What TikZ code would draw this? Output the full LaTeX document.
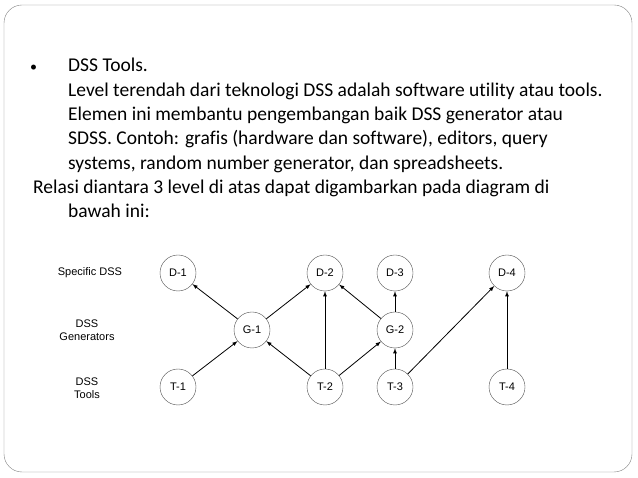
\documentclass[tikz,border=0pt]{standalone}
\usepackage{fontspec}
\setmainfont[RawFeature={-liga;-dlig}]{Carlito}
\newfontfamily\arialf{Liberation Sans}
\begin{document}
\begin{tikzpicture}[x=1pt,y=-1pt,
  ln/.style={anchor=base west,inner sep=0pt,font=\fontsize{19.5}{22}\selectfont},
  cn/.style={circle,draw=black!70,minimum size=36pt,inner sep=0pt,font=\arialf\fontsize{11}{13}\selectfont},
  lab/.style={align=center,font=\arialf\fontsize{11}{13}\selectfont},
  ar/.style={-latex,thick}]
\useasboundingbox (0,0) rectangle (638,478);
\draw[gray,rounded corners=18pt] (4,5) rectangle (632,472);
\node[ln,font=\fontsize{14}{16}\selectfont] (b) at (30,72) {•};
\node[ln] (l1) at (68,72) {DSS Tools.};
\node[ln] (l2) at (68,97) {Level terendah dari teknologi DSS adalah software utility atau tools.};
\node[ln] (l3) at (68,121) {Elemen ini membantu pengembangan baik DSS generator atau};
\node[ln] (l4) at (68,145) {SDSS. Contoh: grafis (hardware dan software), editors, query};
\node[ln] (l5) at (68,170) {systems, random number generator, dan spreadsheets.};
\node[ln] (l6) at (33,194) {Relasi diantara 3 level di atas dapat digambarkan pada diagram di};
\node[ln] (l7) at (68,218) {bawah ini:};
\node[lab] (s1) at (90,273) {Specific DSS};
\node[lab] (s2) at (87,330) {DSS\\Generators};
\node[lab] (s3) at (87,388) {DSS\\Tools};
\node[cn] (D1) at (178,273) {D-1};
\node[cn] (D2) at (325,273) {D-2};
\node[cn] (D3) at (395,273) {D-3};
\node[cn] (D4) at (507,273) {D-4};
\node[cn] (G1) at (252,330) {G-1};
\node[cn] (G2) at (395,330) {G-2};
\node[cn] (T1) at (178,387) {T-1};
\node[cn] (T2) at (325,387) {T-2};
\node[cn] (T3) at (395,387) {T-3};
\node[cn] (T4) at (507,387) {T-4};
\draw[ar] (G1) -- (D1);
\draw[ar] (G1) -- (D2);
\draw[ar] (T2) -- (D2);
\draw[ar] (G2) -- (D2);
\draw[ar] (G2) -- (D3);
\draw[ar] (T1) -- (G1);
\draw[ar] (T2) -- (G1);
\draw[ar] (T2) -- (G2);
\draw[ar] (T3) -- (G2);
\draw[ar] (T3) -- (D4);
\draw[ar] (T4) -- (D4);
\end{tikzpicture}
\end{document}
